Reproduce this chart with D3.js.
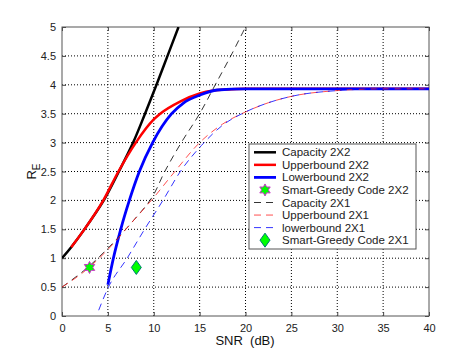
<!DOCTYPE html>
<html><head><meta charset="utf-8">
<script src="https://cdn.jsdelivr.net/npm/d3@7"></script>
<style>body{margin:0;background:#fff}svg{display:block}text{font-family:"Liberation Sans",Arial,sans-serif}</style>
</head><body><svg id="c" width="474" height="355"></svg>
<script>
const xTicks=[0,5,10,15,20,25,30,35,40];
const yTicks=[0,0.5,1,1.5,2,2.5,3,3.5,4,4.5,5];
const yTickLabels=["0","0.5","1","1.5","2","2.5","3","3.5","4","4.5","5"];
const capacity2x2=[[0,1.0],[1,1.19],[2.4,1.49],[4.55,2.0],[6.2,2.5],[7.75,3.0],[9.05,3.5],[10.3,4.0],[11.5,4.5],[12.7,5.0]];
const upper2x2=[[1,1.19],[2.4,1.49],[4.5,2.0],[6.15,2.5],[8.05,3.0],[10,3.4],[10.7,3.5],[12.86,3.71],[15,3.85],[16.5,3.9],[18,3.92],[20,3.93],[40,3.93]];
const lower2x2=[[5,0.54],[5.6,1.0],[6.4,1.5],[7.34,2.0],[8.43,2.5],[9.88,3.0],[11.95,3.5],[13.2,3.68],[15,3.82],[16.9,3.91],[20,3.93],[40,3.93]];
const capacity2x1=[[0,0.5],[2.5,0.8],[5,1.17],[7.5,1.6],[9.8,2.05],[11.2,2.5],[13.0,3.0],[15,3.5],[16.7,4.0],[18.4,4.5],[20,5.0]];
const upper2x1=[[0,0.5],[2.5,0.78],[5,1.15],[7.5,1.6],[10,2.05],[12.3,2.5],[15,3.0],[17.5,3.32],[20,3.53],[22.5,3.69],[25,3.8],[30,3.9],[35,3.93],[40,3.93]];
const lower2x1=[[4,0.1],[5,0.48],[7.1,1.0],[9.0,1.5],[11,2.0],[12.9,2.5],[15.2,2.95],[17.5,3.3],[20,3.53],[22.5,3.69],[25,3.8],[30,3.9],[35,3.93],[40,3.93]];
const greedy2x2=[[3,0.84]];
const greedy2x1=[[8.1,0.84]];
const legendLabels=["Capacity 2X2","Upperbound 2X2","Lowerbound 2X2","Smart-Greedy Code 2X2","Capacity 2X1","Upperbound 2X1","lowerbound 2X1","Smart-Greedy Code 2X1"];

const svg=d3.select("#c");
const L=62,R=429,T=27,B=316;
const x=d3.scaleLinear().domain([0,40]).range([L,R]);
const y=d3.scaleLinear().domain([0,5]).range([B,T]);

// grid
const g=svg.append("g");
g.selectAll(".gx").data(xTicks.slice(1,-1)).enter().append("line")
 .attr("x1",d=>x(d)).attr("x2",d=>x(d)).attr("y1",T).attr("y2",B)
 .attr("stroke","#000").attr("stroke-width",1).attr("stroke-dasharray","1,2");
g.selectAll(".gy").data(yTicks.slice(1,-1)).enter().append("line")
 .attr("y1",d=>y(d)).attr("y2",d=>y(d)).attr("x1",L).attr("x2",R)
 .attr("stroke","#000").attr("stroke-width",1).attr("stroke-dasharray","1,2");

// axes
const xa=svg.append("g").attr("transform",`translate(0,${B})`).call(d3.axisBottom(x).tickValues(xTicks).tickSize(-4).tickPadding(8).tickFormat(d3.format("d")));
const ya=svg.append("g").attr("transform",`translate(${L},0)`).call(d3.axisLeft(y).tickValues(yTicks).tickSize(-4).tickPadding(6).tickFormat((d,i)=>yTickLabels[i]));
[xa,ya].forEach(a=>{a.select(".domain").remove();a.selectAll("line").attr("stroke","#444");a.selectAll("text").attr("font-size",11).attr("fill","#222").attr("font-family","Liberation Sans, Arial, sans-serif");});
svg.append("g").attr("transform",`translate(${R},0)`).call(d3.axisRight(y).tickValues(yTicks).tickSize(-4).tickFormat("")).call(a=>{a.select(".domain").remove();a.selectAll("line").attr("stroke","#444");});
svg.append("g").attr("transform",`translate(0,${T})`).call(d3.axisTop(x).tickValues(xTicks).tickSize(-4).tickFormat("")).call(a=>{a.select(".domain").remove();a.selectAll("line").attr("stroke","#444");});
svg.append("rect").attr("x",L).attr("y",T).attr("width",R-L).attr("height",B-T).attr("fill","none").attr("stroke","#555").attr("stroke-width",1);

// curves
svg.append("clipPath").attr("id","cp").append("rect").attr("x",L).attr("y",T).attr("width",R-L).attr("height",B-T);
const lineM=d3.line().x(d=>x(d[0])).y(d=>y(d[1])).curve(d3.curveMonotoneX);
const lineC=d3.line().x(d=>x(d[0])).y(d=>y(d[1])).curve(d3.curveCatmullRom.alpha(0.5));
const series=[
 {d:capacity2x2,c:"#000",w:2.5,da:null,l:lineC},
 {d:upper2x2,c:"#f00",w:2.5,da:null,l:lineM},
 {d:lower2x2,c:"#00f",w:2.8,da:null,l:lineM},
 {d:capacity2x1,c:"#000",w:0.8,da:"7,5",l:lineC},
 {d:upper2x1,c:"#f22",w:0.8,da:"7,5",l:lineM},
 {d:lower2x1,c:"#00f",w:0.8,da:"7,5",l:lineM}
];
const cg=svg.append("g").attr("clip-path","url(#cp)");
series.forEach(s=>{
 cg.append("path").attr("d",s.l(s.d)).attr("fill","none").attr("stroke",s.c).attr("stroke-width",s.w).attr("stroke-dasharray",s.da);
});
// markers
function hexagram(r){
 const pts=[];
 for(let i=0;i<12;i++){const a=Math.PI/6*i-Math.PI/2;const rr=i%2?r*0.55:r;pts.push([rr*Math.cos(a),rr*Math.sin(a)]);}
 return "M"+pts.map(p=>p[0].toFixed(2)+","+p[1].toFixed(2)).join("L")+"Z";
}
const hexPath=hexagram(6);
svg.selectAll(".m1").data(greedy2x2).enter().append("path").attr("d",hexPath)
 .attr("transform",d=>`translate(${x(d[0])},${y(d[1])})`).attr("fill","#0f0").attr("stroke","#c3c").attr("stroke-width",1);
const diamond="M0,-7L5,0L0,7L-5,0Z";
svg.selectAll(".m2").data(greedy2x1).enter().append("path").attr("d",diamond)
 .attr("transform",d=>`translate(${x(d[0])},${y(d[1])})`).attr("fill","#0f0").attr("stroke","#077").attr("stroke-width",1);

// axis labels
svg.append("text").attr("x",245).attr("y",345).attr("text-anchor","middle").attr("font-size",13).attr("fill","#111").attr("xml:space","preserve").text("SNR  (dB)");
const yl=svg.append("text").attr("transform",`translate(36,${(T+B)/2}) rotate(-90)`).attr("text-anchor","middle").attr("font-size",13).attr("fill","#111");
yl.append("tspan").text("R");
yl.append("tspan").attr("font-size",10).attr("dy",4).text("E");

// legend
const lg=svg.append("g");
lg.append("rect").attr("x",249).attr("y",144).attr("width",167).attr("height",105).attr("fill","#fff").attr("stroke","#555").attr("stroke-width",1);
const rowY=i=>152.3+i*12.55;
const legItems=[
 {t:"line",c:"#000",w:2.5,da:null},{t:"line",c:"#f00",w:2.5,da:null},{t:"line",c:"#00f",w:2.8,da:null},{t:"star"},
 {t:"line",c:"#000",w:0.8,da:"7,5"},{t:"line",c:"#f22",w:0.8,da:"7,5"},{t:"line",c:"#00f",w:0.8,da:"7,5"},{t:"diamond"}];
legItems.forEach((it,i)=>{
 const yy=rowY(i);
 if(it.t==="line"){lg.append("line").attr("x1",254).attr("x2",276).attr("y1",yy).attr("y2",yy).attr("stroke",it.c).attr("stroke-width",it.w).attr("stroke-dasharray",it.da);}
 else if(it.t==="star"){lg.append("path").attr("d",hexPath).attr("transform",`translate(265,${yy})`).attr("fill","#0f0").attr("stroke","#c3c");}
 else {lg.append("path").attr("d",diamond).attr("transform",`translate(265,${yy})`).attr("fill","#0f0").attr("stroke","#077");}
 lg.append("text").attr("x",282).attr("y",yy+4).attr("font-size",11.5).attr("fill","#222").text(legendLabels[i]);
});
</script></body></html>
